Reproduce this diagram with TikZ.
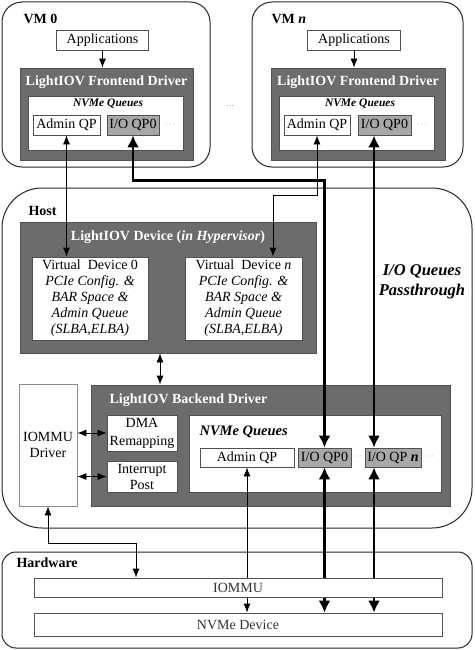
\documentclass[tikz,border=0pt]{standalone}
\usepackage{fontspec}
\setmainfont{Liberation Serif}
\usetikzlibrary{arrows.meta}
\definecolor{drvgray}{RGB}{108,108,108}
\definecolor{qpgray}{RGB}{168,168,168}
\definecolor{edgegray}{RGB}{80,80,80}
\tikzset{>={Latex[length=9pt,width=7pt]}}
\tikzset{
  sz/.style 2 args={minimum width=#1, minimum height=#2},
  vmbox/.style={draw=black!85, line width=1pt, rounded corners=20, inner sep=0},
  drvbox/.style={fill=drvgray, draw=edgegray, line width=0.8pt, inner sep=0},
  wbox/.style={fill=white, draw=edgegray, line width=0.8pt, inner sep=1pt, align=center},
  qpbox/.style={fill=qpgray, draw=edgegray, line width=0.8pt, inner sep=1pt},
  drvtitle/.style={text=white, font=\fontsize{14}{16}\selectfont\bfseries},
  grptitle/.style={font=\fontsize{14}{16}\selectfont\bfseries, anchor=west},
  qtitle/.style={font=\fontsize{11.5}{13}\selectfont\bfseries\itshape},
  qdots/.style={text=black!60, font=\footnotesize},
  link/.style={line width=0.8pt},
  pass/.style={line width=2.4pt, {Latex[length=12pt,width=12pt]}-{Latex[length=12pt,width=12pt]}}
}

\begin{document}
\begin{tikzpicture}[x=1pt, y=-1pt, font=\fontsize{14}{16}\selectfont]
\useasboundingbox (0,0) rectangle (474,650);

% VM 0
\node[vmbox, sz={208}{165}] (vm0) at (106,84.5) {};
\node[grptitle] (vm0lbl) at (20,19) {VM 0};
\node[wbox, sz={92}{20}] (app0) at (102.5,40) {Applications};
\node[drvbox, sz={173}{92}] (fe0) at (106.5,114) {};
\node[drvtitle] (fe0lbl) at (106.5,82) {LightIOV Frontend Driver};
\node[wbox, sz={155}{54}] (fi0) at (105.5,123) {};
\node[qtitle] (fq0lbl) at (108,104) {NVMe Queues};
\node[wbox, sz={67}{20}] (fa0) at (66.5,125) {Admin QP};
\node[qpbox, sz={52}{20}] (fq0) at (133,125) {I/O QP0};
\node[qdots] (fd0) at (170,125) {$\cdots$};

\node[qdots] (vmdots) at (230,106) {…};

% VM n
\node[vmbox, sz={211}{165}] (vmn) at (357.5,84.5) {};
\node[grptitle] (vmnlbl) at (268,19) {VM \textit{n}};
\node[wbox, sz={93}{20}] (appn) at (354,40) {Applications};
\node[drvbox, sz={174}{92}] (fen) at (358,114) {};
\node[drvtitle] (fenlbl) at (358,82) {LightIOV Frontend Driver};
\node[wbox, sz={155}{54}] (fin) at (356.5,123) {};
\node[qtitle] (fqnlbl) at (360,104) {NVMe Queues};
\node[wbox, sz={66}{20}] (fan) at (317,125) {Admin QP};
\node[qpbox, sz={53}{20}] (fqn) at (384.5,125) {I/O QP0};
\node[qdots] (fdn) at (422,125) {$\cdots$};

% Host
\node[vmbox, rounded corners=40, sz={470}{340}] (host) at (237,358) {};
\node[grptitle] (hostlbl) at (25,211) {Host};
\node[drvbox, sz={296}{131}] (dev) at (168,287.5) {};
\node[drvtitle] (devlbl) at (168,237) {LightIOV Device (\textit{in Hypervisor})};
\node[wbox, sz={116}{83}] (vd0) at (90,298.5) {Virtual\ \ Device 0\\ \textit{PCIe Config. \&}\\ \textit{BAR Space \&}\\ \textit{Admin Queue}\\ \textit{(SLBA,ELBA)}};
\node[qdots] (vddots) at (162,301) {…};
\node[wbox, sz={117}{83}] (vdn) at (243.5,298.5) {Virtual\ \ Device \textit{n}\\ \textit{PCIe Config. \&}\\ \textit{BAR Space \&}\\ \textit{Admin Queue}\\ \textit{(SLBA,ELBA)}};
\node[font=\fontsize{16.5}{20}\selectfont\bfseries\itshape, align=center] (ptlbl) at (422,282) {I/O Queues\\Passthrough};

\node[wbox, draw=black!45, sz={58}{122}] (iod) at (48,445) {IOMMU\\Driver};
\node[drvbox, sz={359}{121}] (back) at (270.5,445.5) {};
\node[drvtitle, anchor=west] (backlbl) at (106,400) {LightIOV Backend Driver};
\node[wbox, sz={70}{36}, font=\fontsize{14}{18}\selectfont] (dma) at (142,433) {DMA\\Remapping};
\node[wbox, sz={70}{31}] (irq) at (142,476.5) {Interrupt\\Post};
\node[wbox, sz={252}{77}] (bnq) at (315,453.5) {};
\node[qtitle, font=\fontsize{14.5}{16}\selectfont\bfseries\itshape, anchor=west] (bnqlbl) at (196,432) {NVMe Queues};
\node[wbox, sz={94}{19}] (ba) at (247,457.5) {Admin QP};
\node[qpbox, sz={53}{19}] (bq0) at (324.5,457.5) {I/O QP0};
\node[qdots] (bd0) at (358,457) {$\cdots$};
\node[qpbox, sz={56}{19}] (bqn) at (393,457.5) {I/O QP \textbf{\textit{n}}};
\node[qdots] (bdn) at (429,457) {$\cdots$};

% Hardware
\node[vmbox, rounded corners=14, sz={470}{96}] (hw) at (237,600) {};
\node[grptitle] (hwlbl) at (13,563) {Hardware};
\node[wbox, text=black!80, sz={408}{23}] (nvme) at (238,624.5) {NVMe Device};

% links
\draw[link,->] (app0.south) -- (app0.south |- fe0.north);
\draw[link,->] (appn.south) -- (appn.south |- fen.north);
\draw[link,<->] (fa0.south) -- (fa0.south |- vd0.north);
\draw[link,<->] (fan.south) -- ++(0,60) -| ([xshift=29.5]vdn.north);
\draw[link,<->] ([xshift=-8]dev.south) -- ([xshift=-8]dev.south |- back.north);
\draw[link,<->] (iod.east |- dma.west) -- (dma.west);
\draw[link,<->] (iod.east |- irq.west) -- (irq.west);

% passthrough
\coordinate (vmnpass) at (374,0);
\draw[pass] (fq0.south) -- ++(0,45) -| (bq0.north);
\draw[pass] (fqn.south -| vmnpass) -- (bqn.north -| vmnpass);
\draw[pass] (bq0.south) -- (bq0.south |- nvme.north);
\draw[pass] (bqn.south -| vmnpass) -- (nvme.north -| vmnpass);
\draw[link,<->] (ba.south) -- (ba.south |- nvme.north);

\node[wbox, text=black!80, sz={408}{19}] (iommu) at (238,587.5) {IOMMU};
\draw[link,<->] (iod.south) -- ++(0,37) -| ([xshift=-102]iommu.north);
\end{tikzpicture}
\end{document}
